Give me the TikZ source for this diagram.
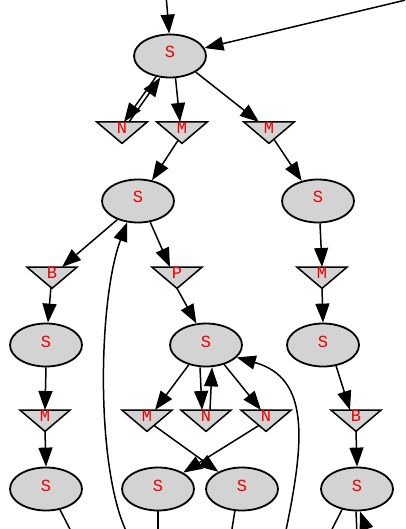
\documentclass[tikz,border=0pt]{standalone}
\usepackage{fontspec}
\setmonofont{Liberation Mono}
\usetikzlibrary{arrows.meta,shapes.geometric,backgrounds}
\definecolor{nodegray}{RGB}{211,211,211}
\definecolor{labred}{RGB}{235,0,0}
\newcommand\labfont{\ttfamily\fontsize{17}{17}\selectfont}
\begin{document}
\begin{tikzpicture}[x=1pt,y=-1pt,
  ell/.style={ellipse, draw, line width=1.8pt, fill=nodegray, minimum width=72pt, minimum height=43pt, inner sep=0pt, font=\labfont, text=labred, text height=10pt, text depth=6pt},
  tri/.style={anchor=north, minimum width=50pt, minimum height=21pt, inner sep=0pt, text height=11pt, text depth=10pt, font=\labfont, text=labred},
  trishape/.style={draw, line width=1.5pt, fill=nodegray, line join=miter},
  arr/.style={line width=1.5pt, -{Triangle[length=19pt,width=14pt]}},
  plainline/.style={line width=1.5pt}]
\useasboundingbox (0,0) rectangle (405,529);
\clip (0,0) rectangle (405,529);
% ellipses
\node[ell] (s1) at (170,56) {S};
\node[ell] (s2) at (138,201) {S};
\node[ell] (s3) at (318,201) {S};
\node[ell] (s4) at (46,345) {S};
\node[ell] (s5) at (206,345) {S};
\node[ell] (s6) at (323,345) {S};
\node[ell] (s7) at (46,489) {S};
\node[ell] (s8) at (158,489) {S};
\node[ell] (s9) at (242,489) {S};
\node[ell] (s10) at (357,489) {S};
% triangles
\node[tri] (n1) at (122,122) {N};
\node[tri] (m1) at (182,122) {M};
\node[tri] (m2) at (269,122) {M};
\node[tri] (b1) at (52,267) {B};
\node[tri] (p1) at (177,267) {P};
\node[tri] (m3) at (322,267) {M};
\node[tri] (m4) at (45,410) {M};
\node[tri] (m5) at (147,410) {M};
\node[tri] (n2) at (206,410) {N};
\node[tri] (n3) at (266,410) {N};
\node[tri] (b2) at (356,410) {B};
\begin{pgfonlayer}{background}
\foreach \t in {n1,m1,m2,b1,p1,m3,m4,m5,n2,n3,b2}
  \filldraw[trishape] (\t.north west) -- (\t.north east) -- (\t.south) -- cycle;
\end{pgfonlayer}
% free ends
\coordinate (in1) at (166,-5);
\coordinate (in2) at (410,-1);
\coordinate (c1) at (128,535);
\coordinate (c2) at (285,535);
\coordinate (e1) at (73,535);
\coordinate (e2) at (158,535);
\coordinate (e3) at (231,535);
\coordinate (e4) at (329,535);
\coordinate (e5) at (357,535);
\coordinate (e6) at (372,545);
% edges
\draw[arr] (in1) -- (s1.92);
\draw[arr] (in2) -- (s1.13);
\draw[arr] (s1.236) -- ([xshift=2pt]n1.north);
\draw[arr] ([xshift=7pt]n1.north) -- (s1.246);
\draw[arr] (s1.284) -- ([xshift=-2pt]m1.north);
\draw[arr] (s1.328) -- ([xshift=-10pt]m2.north);
\draw[arr] ([shift={(-4,-3)}]m1.south) -- (s2.56);
\draw[arr] ([shift={(5,-4)}]m2.south) -- (s3.129);
\draw[arr] (s2.222) -- ([xshift=10pt]b1.north);
\draw[arr] (s2.300) -- ([xshift=-7pt]p1.north);
\draw[arr] ([xshift=2pt]s3.south) -- (m3.north);
\draw[arr] ([shift={(-1,-2)}]b1.south) -- (s4.85);
\draw[arr] (p1.south) -- (s5.114);
\draw[arr] (m3.south) -- (s6.north);
\draw[arr] (s4.south) -- (m4.north);
\draw[arr] (m4.south) -- (s7.north);
\draw[arr] (s5.229) -- ([xshift=8pt]m5.north);
\draw[arr] ([xshift=-6pt]s5.south) -- ([xshift=-4pt]n2.north);
\draw[arr] ([xshift=4pt]n2.north) -- ([xshift=6pt]s5.south);
\draw[arr] (s5.313) -- ([xshift=-5pt]n3.north);
\draw[arr] ([shift={(7,-6)}]m5.south) -- (s9.144);
\draw[arr] ([shift={(-7,-6)}]n3.south) -- (s8.33);
\draw[arr] (s6.302) -- ([xshift=-6pt]b2.north);
\draw[arr] (b2.south) -- (s10.north);
\draw[arr] (c1) .. controls (95,470) and (98,300) .. (s2.243);
\draw[arr] (c2) .. controls (305,440) and (310,378) .. (s5.338);
\draw[plainline] (s7.304) -- (e1);
\draw[plainline] (s8.south) -- (e2);
\draw[plainline] (s9.252) -- (e3);
\draw[plainline] (s10.234) -- (e4);
\draw[plainline] ([xshift=-1pt]s10.south) -- (e5);
\draw[arr] (e6) -- ([xshift=3pt]s10.south);
\end{tikzpicture}
\end{document}
